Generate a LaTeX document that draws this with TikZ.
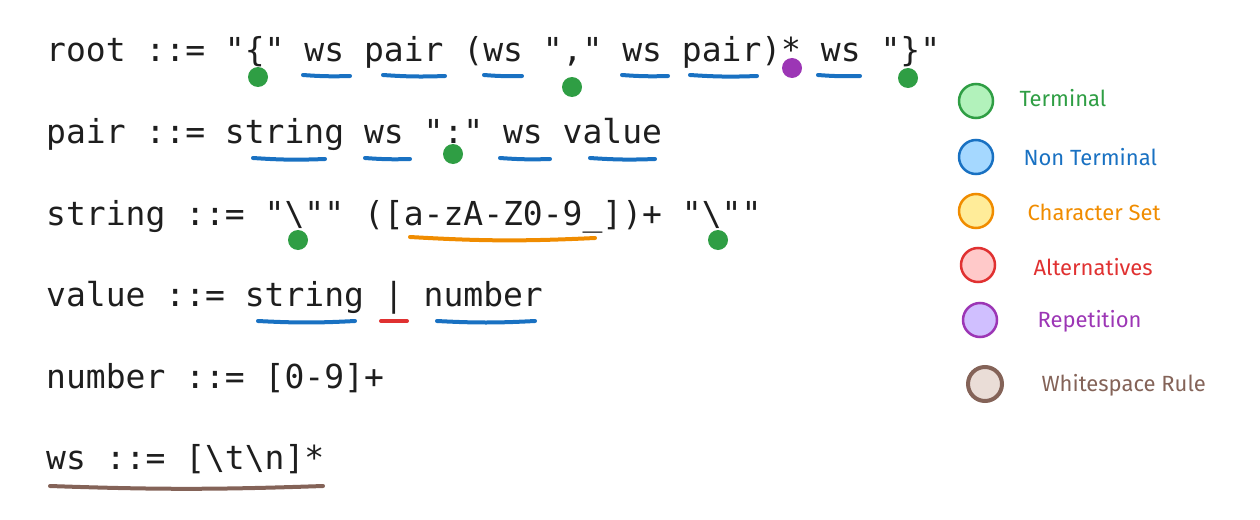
\documentclass[tikz,border=0pt]{standalone}
\usepackage{fontspec}
\setmonofont{DejaVu Sans Mono}
\setmainfont{Fira Sans}
\begin{document}
\begin{tikzpicture}[x=1pt,y=-1pt]
\definecolor{tx}{HTML}{1E1E1E}
\definecolor{gS}{HTML}{2F9E44}\definecolor{gF}{HTML}{B2F2BB}
\definecolor{bS}{HTML}{1971C2}\definecolor{bF}{HTML}{A5D8FF}
\definecolor{oS}{HTML}{F08C00}\definecolor{oF}{HTML}{FFEC99}
\definecolor{rS}{HTML}{E03131}\definecolor{rF}{HTML}{FFC9C9}
\definecolor{pS}{HTML}{9C36B5}\definecolor{pF}{HTML}{D0BFFF}
\definecolor{nS}{HTML}{846358}\definecolor{nF}{HTML}{EADDD7}
\tikzset{
 code/.style={anchor=base west,inner sep=0pt,font=\fontsize{33}{33}\ttfamily,text=tx},
 ul/.style={line width=4pt,line cap=round},
 dot/.style={circle,fill=#1,inner sep=0pt,minimum size=20pt},
 leg/.style={circle,draw=#1,line width=2.5pt,minimum size=34pt,inner sep=0pt},
 lab/.style={anchor=west,font=\fontsize{22}{22}\selectfont,text=#1}
}
\useasboundingbox (0,0) rectangle (1260,519);
\node[code] (r1) at (46,62) {root ::= "\{" ws pair (ws "," ws pair)* ws "\}"};
\node[code] (r2) at (46,143) {pair ::= string ws ":" ws value};
\node[code] (r3) at (46,225) {string ::= "\textbackslash"" ([a-zA-Z0-9\_])+ "\textbackslash""};
\node[code] (r4) at (46,306) {value ::= string | number};
\node[code] (r5) at (46,388) {number ::= [0-9]+};
\node[code] (r6) at (46,469) {ws ::= [\textbackslash t\textbackslash n]*};
% row 1
\foreach \a/\b in {303/350,383/445,484/522,622/668,690/757,818/860}
  \draw[ul,bS] (\a,75) to[bend right=3] (\b,76);
\node[dot=gS] (d1) at (258,77) {};
\node[dot=gS] (d2) at (572,87) {};
\node[dot=gS] (d3) at (908,78) {};
\node[dot=pS] (d4) at (792,68) {};
% row 2
\foreach \a/\b in {253/325,365/410,500/550,590/655}
  \draw[ul,bS] (\a,158) to[bend right=3] (\b,159);
\node[dot=gS] (d5) at (453,154) {};
% row 3
\draw[ul,oS] (410,237) to[bend right=3] (595,238);
\node[dot=gS] (d6) at (298,240) {};
\node[dot=gS] (d7) at (718,240) {};
% row 4
\foreach \a/\b in {258/355,437/535}
  \draw[ul,bS] (\a,321) to[bend right=3] (\b,321);
\draw[ul,rS] (381,321) -- (407,321);
% row 6
\draw[ul,nS] (50,486) to[bend right=2] (323,486);
% legend
\node[leg=gS,fill=gF] (l1) at (976,101) {};
\node[leg=bS,fill=bF] (l2) at (976,157) {};
\node[leg=oS,fill=oF] (l3) at (976,211) {};
\node[leg=rS,fill=rF] (l4) at (978,265) {};
\node[leg=pS,fill=pF] (l5) at (980,320) {};
\node[leg=nS,fill=nF,line width=4pt] (l6) at (985,384) {};
\node[lab=gS] (t1) at (1016,98) {Terminal};
\node[lab=bS] (t2) at (1020,157) {Non Terminal};
\node[lab=oS] (t3) at (1024,212) {Character Set};
\node[lab=rS] (t4) at (1030,267) {Alternatives};
\node[lab=pS] (t5) at (1034,321) {Repetition};
\node[lab=nS] (t6) at (1038,385) {Whitespace Rule};
\end{tikzpicture}
\end{document}
